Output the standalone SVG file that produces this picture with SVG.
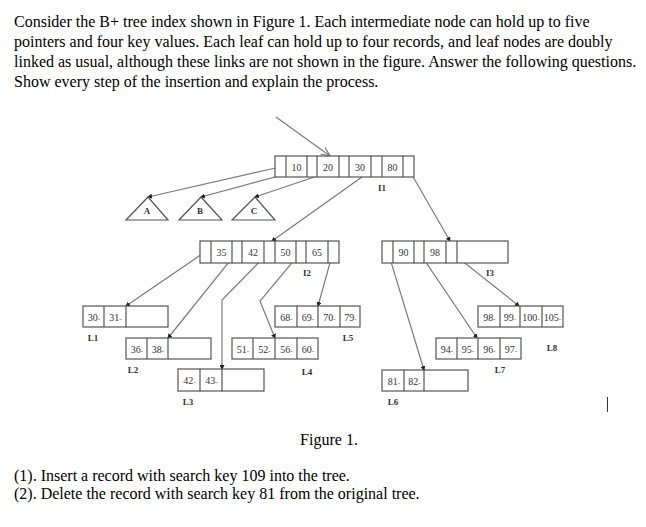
<svg xmlns="http://www.w3.org/2000/svg" width="646" height="527" viewBox="0 0 646 527">
<style>
.para{font-family:"Liberation Serif","Times New Roman",serif;font-size:16px;fill:#000}
.box{fill:#fff;stroke:#555;stroke-width:1.2}
.div{stroke:#555;stroke-width:1.2}
.key{font-family:"Liberation Serif","Times New Roman",serif;font-size:10px;fill:#333;text-anchor:middle}
.lbl{font-family:"Liberation Serif","Times New Roman",serif;font-size:9px;font-weight:bold;fill:#333;text-anchor:middle}
.mk{font-size:7px}
.con{fill:none;stroke:#7a7a7a;stroke-width:1.2}
.tri{fill:#fff;stroke:#555;stroke-width:1.2}
</style>
<defs>
<marker id="dot" markerUnits="userSpaceOnUse" markerWidth="5" markerHeight="5" refX="4" refY="2.5" orient="auto">
<path d="M0,0 L5,2.5 L0,5 z" fill="#222"/>
</marker>
<marker id="arr" markerUnits="userSpaceOnUse" markerWidth="10" markerHeight="10" refX="9" refY="5" orient="auto">
<path d="M0,1 L9,5 L0,9" fill="none" stroke="#777" stroke-width="1.2"/>
</marker>
</defs>
<rect width="646" height="527" fill="#fff"/>

<g id="intro">
<text class="para" x="14" y="27">Consider the B+ tree index shown in Figure 1. Each intermediate node can hold up to five</text>
<text class="para" x="14" y="47">pointers and four key values. Each leaf can hold up to four records, and leaf nodes are doubly</text>
<text class="para" x="14" y="67">linked as usual, although these links are not shown in the figure. Answer the following questions.</text>
<text class="para" x="14" y="87">Show every step of the insertion and explain the process.</text>
</g>

<g id="connectors">
<line class="con" x1="276" y1="117" x2="330" y2="156" marker-end="url(#arr)"/>
<line class="con" x1="280" y1="167" x2="148" y2="197" marker-end="url(#dot)"/>
<line class="con" x1="312" y1="167" x2="201" y2="197" marker-end="url(#dot)"/>
<line class="con" x1="344" y1="167" x2="255" y2="197" marker-end="url(#dot)"/>
<line class="con" x1="376" y1="167" x2="272" y2="241" marker-end="url(#dot)"/>
<line class="con" x1="408" y1="168" x2="450" y2="241" marker-end="url(#dot)"/>
<line class="con" x1="205" y1="252" x2="126" y2="306" marker-end="url(#dot)"/>
<line class="con" x1="237" y1="252" x2="168" y2="338" marker-end="url(#dot)"/>
<polyline class="con" points="269,252 222,300 222,369" marker-end="url(#dot)"/>
<polyline class="con" points="301,252 260,301 275,338" marker-end="url(#dot)"/>
<line class="con" x1="333" y1="252" x2="318" y2="306" marker-end="url(#dot)"/>
<line class="con" x1="388" y1="252" x2="424" y2="370" marker-end="url(#dot)"/>
<line class="con" x1="419" y1="252" x2="477" y2="338" marker-end="url(#dot)"/>
<line class="con" x1="451" y1="252" x2="519" y2="306" marker-end="url(#dot)"/>
</g>

<g id="I1">
<rect class="box" x="275" y="156" width="139" height="21"/>
<path class="div" d="M286,156V177M307,156V177M317,156V177M339,156V177M349,156V177M371,156V177M382,156V177M403,156V177"/>
<text class="key" x="296.5" y="171">10</text>
<text class="key" x="328" y="171">20</text>
<text class="key" x="360" y="171">30</text>
<text class="key" x="392.5" y="171">80</text>
<text class="lbl" x="382" y="191">I1</text>
</g>

<g id="A">
<polygon class="tri" points="148,197 126,220 168,220"/>
<text class="lbl" x="147" y="214">A</text>
</g>
<g id="B">
<polygon class="tri" points="201,197 179,220 222,220"/>
<text class="lbl" x="200" y="214">B</text>
</g>
<g id="C">
<polygon class="tri" points="255,197 232,220 275,220"/>
<text class="lbl" x="254" y="214">C</text>
</g>

<g id="I2">
<rect class="box" x="200" y="241" width="139" height="22"/>
<path class="div" d="M211,241V263M232,241V263M242,241V263M264,241V263M275,241V263M296,241V263M306,241V263M328,241V263"/>
<text class="key" x="221.5" y="256">35</text>
<text class="key" x="253" y="256">42</text>
<text class="key" x="285.5" y="256">50</text>
<text class="key" x="317" y="256">65</text>
<text class="lbl" x="307" y="276">I2</text>
</g>

<g id="I3">
<rect class="box" x="382" y="241" width="126" height="22"/>
<path class="div" d="M393,241V263M414,241V263M424,241V263M446,241V263M457,241V263"/>
<text class="key" x="403.5" y="256">90</text>
<text class="key" x="435" y="256">98</text>
<text class="lbl" x="490" y="276">I3</text>
</g>

<g id="L1">
<rect class="box" x="83" y="306" width="85" height="21"/>
<path class="div" d="M104,306V327M126,306V327"/>
<text class="key" x="94" y="321">30<tspan class="mk">-</tspan></text>
<text class="key" x="115.5" y="321">31<tspan class="mk">-</tspan></text>
<text class="lbl" x="93" y="341">L1</text>
</g>

<g id="L2">
<rect class="box" x="126" y="338" width="85" height="21"/>
<path class="div" d="M147,338V359M168,338V359"/>
<text class="key" x="137" y="353">36<tspan class="mk">-</tspan></text>
<text class="key" x="158" y="353">38<tspan class="mk">-</tspan></text>
<text class="lbl" x="133" y="373">L2</text>
</g>

<g id="L3">
<rect class="box" x="178" y="369" width="86" height="22"/>
<path class="div" d="M200,369V391M222,369V391"/>
<text class="key" x="189.5" y="384">42<tspan class="mk">-</tspan></text>
<text class="key" x="211.5" y="384">43<tspan class="mk">-</tspan></text>
<text class="lbl" x="188" y="405">L3</text>
</g>

<g id="L4">
<rect class="box" x="232" y="338" width="86" height="21"/>
<path class="div" d="M253,338V359M275,338V359M297,338V359"/>
<text class="key" x="243" y="353">51<tspan class="mk">-</tspan></text>
<text class="key" x="264.5" y="353">52<tspan class="mk">-</tspan></text>
<text class="key" x="286.5" y="353">56<tspan class="mk">-</tspan></text>
<text class="key" x="308" y="353">60<tspan class="mk">-</tspan></text>
<text class="lbl" x="307" y="375">L4</text>
</g>

<g id="L5">
<rect class="box" x="275" y="306" width="85" height="21"/>
<path class="div" d="M297,306V327M318,306V327M340,306V327"/>
<text class="key" x="286.5" y="321">68<tspan class="mk">-</tspan></text>
<text class="key" x="308" y="321">69<tspan class="mk">-</tspan></text>
<text class="key" x="329.5" y="321">70<tspan class="mk">-</tspan></text>
<text class="key" x="350.5" y="321">79<tspan class="mk">-</tspan></text>
<text class="lbl" x="348" y="341">L5</text>
</g>

<g id="L6">
<rect class="box" x="382" y="370" width="86" height="21"/>
<path class="div" d="M404,370V391M424,370V391"/>
<text class="key" x="394" y="385">81<tspan class="mk">-</tspan></text>
<text class="key" x="414.5" y="385">82<tspan class="mk">-</tspan></text>
<text class="lbl" x="393" y="405">L6</text>
</g>

<g id="L7">
<rect class="box" x="436" y="338" width="85" height="21"/>
<path class="div" d="M457,338V359M478,338V359M500,338V359"/>
<text class="key" x="447" y="353">94<tspan class="mk">-</tspan></text>
<text class="key" x="468" y="353">95<tspan class="mk">-</tspan></text>
<text class="key" x="489.5" y="353">96<tspan class="mk">-</tspan></text>
<text class="key" x="511" y="353">97<tspan class="mk">-</tspan></text>
<text class="lbl" x="500" y="373">L7</text>
</g>

<g id="L8">
<rect class="box" x="478" y="306" width="85" height="21"/>
<path class="div" d="M500,306V327M520,306V327M542,306V327"/>
<text class="key" x="489.5" y="321">98<tspan class="mk">-</tspan></text>
<text class="key" x="510" y="321">99<tspan class="mk">-</tspan></text>
<text class="key" x="531" y="321">100<tspan class="mk">-</tspan></text>
<text class="key" x="552.5" y="321">105<tspan class="mk">-</tspan></text>
<text class="lbl" x="552" y="351">L8</text>
</g>

<line x1="607.5" y1="397" x2="607.5" y2="412" stroke="#333" stroke-width="1"/>

<g id="caption">
<text class="para" x="329" y="445" text-anchor="middle">Figure 1.</text>
<text class="para" x="14" y="481">(1). Insert a record with search key 109 into the tree.</text>
<text class="para" x="14" y="499">(2). Delete the record with search key 81 from the original tree.</text>
</g>
</svg>
